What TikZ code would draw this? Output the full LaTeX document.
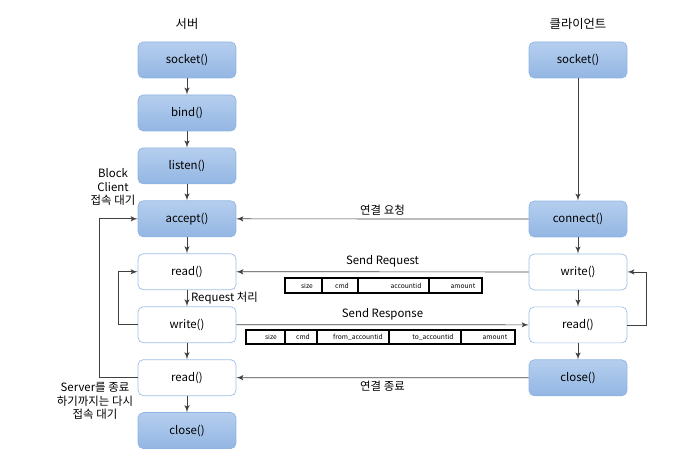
\documentclass[tikz,border=0pt]{standalone}
\usepackage{fontspec}
\setmainfont{Noto Sans CJK KR}
\usetikzlibrary{positioning, arrows}
\definecolor{boxtop}{HTML}{B5CEEE}
\definecolor{boxbot}{HTML}{93B6E3}
\definecolor{boxline}{HTML}{8EB4E3}
\definecolor{wire}{HTML}{404040}
\tikzset{
call/.style={
  draw=boxline, 
  rounded corners=3pt, 
  minimum height=0.72cm, 
  minimum width=1.96cm, align=center,
  font=\fontsize{6.5}{8}\selectfont
  }, 
filled call/.style={call, top color=boxtop, bottom color=boxbot},
open call/.style={call, fill=white, draw=boxline!85},
line/.style={->,>=latex', draw=wire},
note/.style={align=center, inner sep=1pt, font=\fontsize{6.5}{7.6}\selectfont},
field/.style={inner sep=0pt, font=\fontsize{3.8}{4}\selectfont},
packet/.style={draw=black, line width=0.6pt}
}

\begin{document}
\begin{tikzpicture}[x=0.02cm, y=-0.02cm]
\useasboundingbox (0,0) rectangle (700,469);
\node[note, font=\fontsize{7}{8}\selectfont] (servertitle) at (187,24) {서버};
\node[note, font=\fontsize{7}{8}\selectfont] (clienttitle) at (578,24) {클라이언트};

\node[filled call] (ssocket) at (187,60) {socket()};
\node[filled call, below=0.325cm of ssocket] (sbind) {bind()};
\node[filled call, below=0.325cm of sbind] (slisten) {listen()};
\node[filled call, below=0.325cm of slisten] (saccept) {accept()};
\node[open call, below=0.325cm of saccept] (sreadA) {read()};
\node[open call, below=0.325cm of sreadA] (swrite) {write()};
\node[open call, below=0.325cm of swrite] (sreadB) {read()};
\node[filled call, below=0.325cm of sreadB] (sclose) {close()};

\node[filled call] (csocket) at (578,60) {socket()};
\node[filled call] (cconnect) at (578,219) {connect()};
\node[open call, below=0.325cm of cconnect] (cwrite) {write()};
\node[open call, below=0.325cm of cwrite] (cread) {read()};
\node[filled call, below=0.325cm of cread] (cclose) {close()};

\foreach \a/\b in {ssocket/sbind, sbind/slisten, slisten/saccept, saccept/sreadA,
  sreadA/swrite, swrite/sreadB, sreadB/sclose,
  csocket/cconnect, cconnect/cwrite, cwrite/cread, cread/cclose}
  \draw[line] (\a) -- (\b);

\draw[line] (cconnect) -- node[note, above=1pt] (reqlabel) {연결 요청} (saccept);
\draw[line] (cwrite) -- node[note, above=1.5pt] (sendreq) {Send Request} (sreadA);
\draw[line] (swrite) -- node[note, above=1.5pt] (sendres) {Send Response} (cread);
\draw[line] (cclose) -- node[note, below=0.5pt] (closelabel) {연결 종료} (sreadB);

\draw[line] (sreadB.west) -- ++(-38,0) |- (saccept.west);
\draw[line] (swrite.west) -- ++(-19,0) |- (sreadA.west);
\draw[line] (cread.east) -- ++(19,0) |- (cwrite.east);

\node[note] (blocknote) at (113,187) {Block\\Client\\접속 대기};
\node[note, anchor=west] (worknote) at (189,298) {Request 처리};
\node[note] (endnote) at (95,401) {Server를 종료\\하기까지는 다시\\접속 대기};

\draw[packet] (285,278) rectangle (482,293);
\foreach \x in {322,358,429} \draw[packet] (\x,278) -- (\x,293);
\node[field] (rsize) at (307,286) {size};
\node[field] (rcmd) at (342,286) {cmd};
\node[field] (racct) at (406,286) {accountid};
\node[field] (ramount) at (463,286) {amount};

\draw[packet] (246,330) rectangle (515,344);
\foreach \x in {285,317,389,461} \draw[packet] (\x,330) -- (\x,344);
\node[field] (ssize) at (271,337) {size};
\node[field] (scmd) at (303,337) {cmd};
\node[field] (sfrom) at (358,337) {from\_accountid};
\node[field] (sto) at (433,337) {to\_accountid};
\node[field] (samount) at (495,337) {amount};
\end{tikzpicture}
\end{document}
